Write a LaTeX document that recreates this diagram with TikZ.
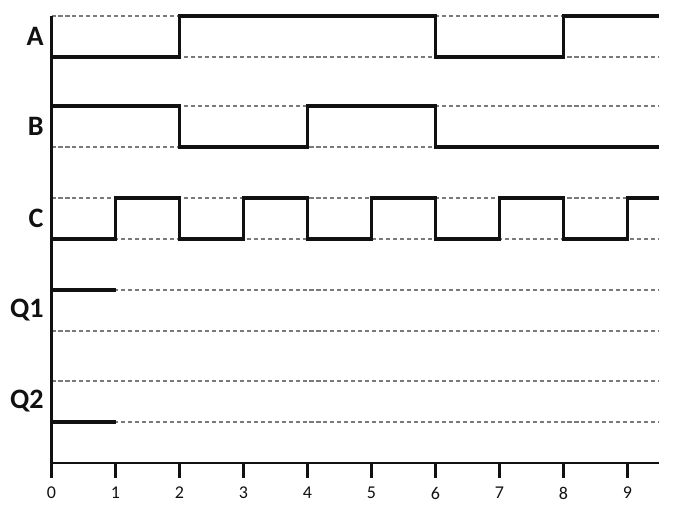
\documentclass[tikz,border=0pt]{standalone}
\usepackage{fontspec}
\setmainfont{Carlito}
\usepackage{xcolor}
\usepackage{tikz}
\definecolor{TDink}{HTML}{111111}
\definecolor{TDgrid}{HTML}{7A7A7A}
\newcommand{\siglabel}[1]{{\fontsize{12.5}{14}\selectfont\bfseries #1}}
\tikzset{
  sigline/.style={line width=1.4pt, draw=TDink, line join=miter},
  gridline/.style={line width=0.7pt, draw=TDgrid, dash pattern=on 1.8pt off 1.3pt},
  axisline/.style={line width=1.2pt, draw=TDink},
  ticklabel/.style={font=\fontsize{8}{9}\selectfont, text=TDink},
  rowlabel/.style={anchor=east, inner sep=0pt, text=TDink}
}

\begin{document}
\begin{tikzpicture}
\useasboundingbox (-0.805,-0.6875) rectangle (9.805,7.234);
% reference levels (low, high) for each signal
\foreach \lo in {6.344,4.938,3.5,2.0625,0.64}{
  \draw[gridline] (0,\lo) -- (9.5,\lo);
  \draw[gridline] (0,\lo+0.64) -- (9.5,\lo+0.64);
}
% axes
\draw[axisline] (0,6.98) -- (0,-0.234);
\draw[axisline] (0,0) -- (9.5,0);
\foreach \t in {1,...,9}{
  \draw[axisline] (\t,0) -- (\t,-0.234);
}
\foreach \t in {0,...,9}{
  \node[ticklabel] (tick\t) at (\t,-0.47) {\t};
}
% signal names
\node[rowlabel] (labA) at (-0.117,6.664) {\siglabel{A}};
\node[rowlabel] (labB) at (-0.117,5.258) {\siglabel{B}};
\node[rowlabel] (labC) at (-0.117,3.82) {\siglabel{C}};
\node[rowlabel] (labQ1) at (-0.117,2.383) {\siglabel{Q1}};
\node[rowlabel] (labQ2) at (-0.117,0.96) {\siglabel{Q2}};
% waveforms
\draw[sigline] (0,6.344) -- (2,6.344) -- (2,6.984) -- (6,6.984) -- (6,6.344) -- (8,6.344) -- (8,6.984) -- (9.5,6.984);
\draw[sigline] (0,5.578) -- (2,5.578) -- (2,4.938) -- (4,4.938) -- (4,5.578) -- (6,5.578) -- (6,4.938) -- (9.5,4.938);
\draw[sigline] (0,3.5) -- (1,3.5)
  \foreach \k in {1,3,5,7}{ -- (\k,4.14) -- (\k+1,4.14) -- (\k+1,3.5) -- (\k+2,3.5) }
  -- (9,4.14) -- (9.5,4.14);
\draw[sigline] (0,2.703) -- (1,2.703);
\draw[sigline] (0,0.64) -- (1,0.64);
\end{tikzpicture}
\end{document}
